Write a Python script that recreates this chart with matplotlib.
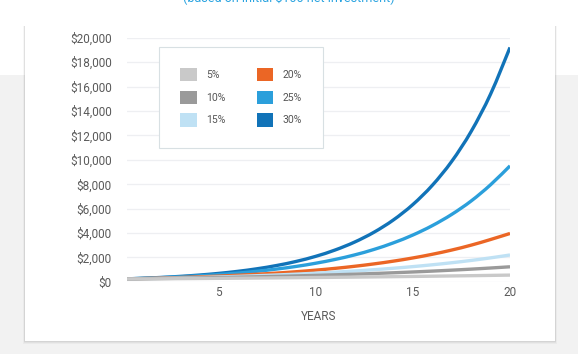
import numpy as np
import matplotlib
matplotlib.use("Agg")
import matplotlib.pyplot as plt
from matplotlib.patches import Rectangle, Patch, PathPatch
from matplotlib.path import Path

plt.rcParams['font.family'] = ['Roboto', 'DejaVu Sans']

# years on the x axis and the value of each rate's line
years = list(range(0, 21))
rates = ['5%', '10%', '15%', '20%', '25%', '30%']
value_5 = [226, 236, 247, 258, 270, 282, 295, 308, 322, 337, 352,
           368, 385, 402, 421, 440, 460, 481, 502, 525, 549]
value_10 = [226, 246, 268, 291, 317, 345, 376, 409, 445, 484, 527,
            574, 624, 680, 740, 805, 876, 954, 1038, 1130, 1230]
value_15 = [226, 253, 284, 318, 356, 399, 447, 501, 561, 629, 705,
            790, 885, 991, 1111, 1244, 1394, 1562, 1750, 1961, 2197]
value_20 = [226, 262, 302, 349, 403, 465, 537, 620, 715, 826, 953,
            1100, 1270, 1466, 1692, 1953, 2254, 2601, 3002, 3465, 3960]
value_25 = [226, 275, 335, 405, 490, 590, 715, 865, 1045, 1260, 1520,
            1830, 2200, 2650, 3190, 3830, 4600, 5520, 6620, 7950, 9500]
value_30 = [226, 282, 353, 440, 550, 687, 857, 1071, 1337, 1669, 2084,
            2603, 3250, 4058, 5066, 6326, 7899, 9863, 12315, 15377, 19200]
series = [value_5, value_10, value_15, value_20, value_25, value_30]
colours = ['#c9c9c9', '#9a9a9a', '#bfe1f4', '#eb6625', '#2b9fdb', '#1173b8']

y_ticks = list(range(0, 20001, 2000))
x_ticks = [5, 10, 15, 20]

W, H = 578, 354


def spline_path(xs, ys):
    # smooth curve through the data points (Catmull-Rom as cubic Bezier)
    p = np.column_stack([xs, ys]).astype(float)
    verts = [p[0]]
    codes = [Path.MOVETO]
    n = len(p)
    for i in range(n - 1):
        p0 = p[i - 1] if i > 0 else p[i]
        p3 = p[i + 2] if i + 2 < n else p[i + 1]
        c1 = p[i] + (p[i + 1] - p0) / 6.0
        c2 = p[i + 1] - (p3 - p[i]) / 6.0
        verts += [c1, c2, p[i + 1]]
        codes += [Path.CURVE4] * 3
    return Path(verts, codes)


fig = plt.figure(figsize=(W / 100, H / 100), dpi=100)
fig.patch.set_facecolor('white')

# page background: white band on top, light gray below
fig.patches.append(Rectangle((0, 0), 1, 1 - 75 / H, transform=fig.transFigure,
                             facecolor='#f2f2f2', edgecolor='none', zorder=-10))
# card shadow + card
for i, a in enumerate([0.03, 0.04, 0.05]):
    off = 3 - i
    fig.patches.append(Rectangle(((25 - off * 0.6) / W, (H - 341 - off) / H),
                                 (530 + 1.2 * off) / W, (315 + off) / H,
                                 transform=fig.transFigure, facecolor='black',
                                 alpha=a, edgecolor='none', zorder=-9))
fig.patches.append(Rectangle((25 / W, (H - 341) / H), 530 / W, 315 / H,
                             transform=fig.transFigure, facecolor='white',
                             edgecolor='none', zorder=-8))

# subtitle sits half off the top edge, as in the source screenshot
fig.text(289 / W, 1 - 1.5 / H, '(based on initial $100 net investment)',
         ha='center', va='baseline', fontsize=9, color='#29a3e0')

ax = fig.add_axes([127 / W, 1 - 281.8 / H, (510 - 127) / W, (281.8 - 37.7) / H])
ax.set_facecolor('none')

# 30% at the back so the pale lines sit on top where they overlap
for z, (vals, col) in enumerate(zip(series, colours)):
    ax.add_patch(PathPatch(spline_path(years, vals), facecolor='none',
                           edgecolor=col, lw=2.4, zorder=9 - z,
                           capstyle='butt'))

ax.set_xlim(0.3, 20)
ax.set_ylim(0, 20000)
ax.set_xticks(x_ticks)
ax.set_yticks(y_ticks)
ax.set_yticklabels(['$%s' % format(v, ',') for v in y_ticks])
ax.grid(axis='y', color='#eeeff2', lw=0.9, zorder=0)
ax.tick_params(axis='both', length=0, labelsize=8.5, labelcolor='#5a5a5a')
ax.tick_params(axis='y', pad=11)
ax.tick_params(axis='x', pad=3)
for s in ax.spines.values():
    s.set_visible(False)
ax.set_xlabel('YEARS', fontsize=8.5, color='#5a5a5a', labelpad=8)

handles = [Patch(facecolor=c, edgecolor='none') for c in colours]
leg = ax.legend(handles, rates, ncol=2, loc='upper left',
                bbox_to_anchor=(159 / W, 1 - 47 / H),
                bbox_transform=fig.transFigure, borderaxespad=0,
                fontsize=7.5, handlelength=1.6, handleheight=1.6,
                labelspacing=0.9, columnspacing=3.0, handletextpad=0.9,
                borderpad=2.0, fancybox=False, framealpha=1,
                edgecolor='#d8e0e3', labelcolor='#555555')
leg.get_frame().set_linewidth(0.8)

fig.savefig('out.png', dpi=100)
